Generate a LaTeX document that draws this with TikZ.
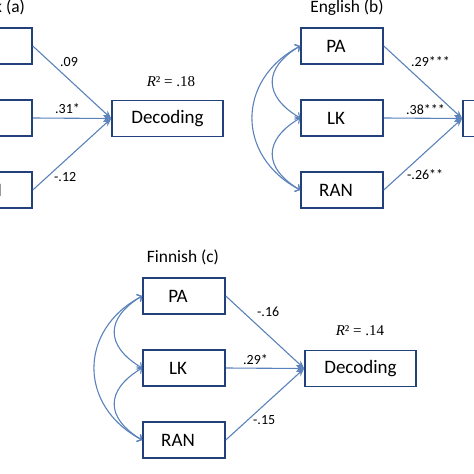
\documentclass[tikz,border=0pt]{standalone}
\usepackage{fontspec}
\setmainfont{Carlito}
\newfontfamily\timesf{Liberation Serif}
\usetikzlibrary{arrows.meta}
\definecolor{boxc}{HTML}{22407A}
\definecolor{arrc}{HTML}{5B82BB}
\tikzset{
  inbox/.style={draw=boxc, line width=1.6pt, minimum width=82pt, minimum height=36pt, inner sep=0pt,
    font=\fontsize{19}{19}\selectfont, execute at end node=\hspace*{12pt}},
  decbox/.style={draw=boxc, line width=1.6pt, minimum width=111pt, minimum height=36pt, inner sep=0pt,
    font=\fontsize{19}{19}\selectfont},
  pth/.style={arrc, line width=1.1pt, -{Stealth[length=8pt,width=6.5pt]}},
  cor/.style={arrc, line width=1.1pt, {Straight Barb[length=3.5pt,width=8pt]}-{Straight Barb[length=3.5pt,width=8pt]}},
  coef/.style={font=\fontsize{14}{14}\selectfont, anchor=west, inner sep=0pt},
  ttl/.style={font=\fontsize{17.4}{17.4}\selectfont, anchor=base, inner sep=0pt},
  rsq/.style={font=\timesf\fontsize{15}{15}\selectfont, anchor=base, inner sep=0pt}
}
\begin{document}
\begin{tikzpicture}[x=1pt,y=-1pt]
\useasboundingbox (0,0) rectangle (474,474);
\fill[white] (0,0) rectangle (474,474);
\clip (0,0) rectangle (474,474);
% Panel (a)
\begin{scope}[shift={(-351,0)}]
  \node[ttl] (at) at (343.5,12) {Greek (a)};
  \node[inbox] (apa) at (342,46) {PA};
  \node[inbox] (alk) at (342,118) {LK};
  \node[inbox] (aran) at (342,190) {RAN};
  \node[decbox] (adec) at (518.5,118.5) {Decoding};
  \node[rsq] (ar) at (522,86) {\textit{R}² = .18};
  \draw[pth] (apa.east) -- (adec.west);
  \draw[pth] (alk.east) -- (adec.west);
  \draw[pth] (aran.east) -- (adec.west);
  \node[coef] (ac1) at (411,62) {.09};
  \node[coef] (ac2) at (406,109) {.31*};
  \node[coef] (ac3) at (405,177) {-.12};
  \draw[cor] (apa.west) .. controls +(-37,22) and +(-37,-22) .. (alk.west);
  \draw[cor] (alk.west) .. controls +(-37,22) and +(-37,-22) .. (aran.west);
  \draw[cor] (apa.west) .. controls +(-64,34) and +(-64,-34) .. (aran.west);
\end{scope}
% Panel (b)
\begin{scope}
  \node[ttl] (bt) at (347,12) {English (b)};
  \node[inbox] (bpa) at (342,46) {PA};
  \node[inbox] (blk) at (342,118) {LK};
  \node[inbox] (bran) at (342,190) {RAN};
  \node[decbox] (bdec) at (518.5,118.5) {Decoding};
  \draw[pth] (bpa.east) -- (bdec.west);
  \draw[pth] (blk.east) -- (bdec.west);
  \draw[pth] (bran.east) -- (bdec.west);
  \node[coef] (bc1) at (411,62) {.29***};
  \node[coef] (bc2) at (406,110) {.38***};
  \node[coef] (bc3) at (407,175) {-.26**};
  \draw[cor] (bpa.west) .. controls +(-37,22) and +(-37,-22) .. (blk.west);
  \draw[cor] (blk.west) .. controls +(-37,22) and +(-37,-22) .. (bran.west);
  \draw[cor] (bpa.west) .. controls +(-64,34) and +(-64,-34) .. (bran.west);
\end{scope}
% Panel (c)
\begin{scope}[shift={(-158,250)}]
  \node[ttl] (ct) at (341,12) {Finnish (c)};
  \node[inbox] (cpa) at (342,46) {PA};
  \node[inbox] (clk) at (342,118) {LK};
  \node[inbox] (cran) at (342,190) {RAN};
  \node[decbox] (cdec) at (518.5,118.5) {Decoding};
  \node[rsq] (cr) at (518,85) {\textit{R}² = .14};
  \draw[pth] (cpa.east) -- (cdec.west);
  \draw[pth] (clk.east) -- (cdec.west);
  \draw[pth] (cran.east) -- (cdec.west);
  \node[coef] (cc1) at (415,62) {-.16};
  \node[coef] (cc2) at (401,110) {.29*};
  \node[coef] (cc3) at (411,170) {-.15};
  \draw[cor] (cpa.west) .. controls +(-37,22) and +(-37,-22) .. (clk.west);
  \draw[cor] (clk.west) .. controls +(-37,22) and +(-37,-22) .. (cran.west);
  \draw[cor] (cpa.west) .. controls +(-64,34) and +(-64,-34) .. (cran.west);
\end{scope}
\end{tikzpicture}
\end{document}
